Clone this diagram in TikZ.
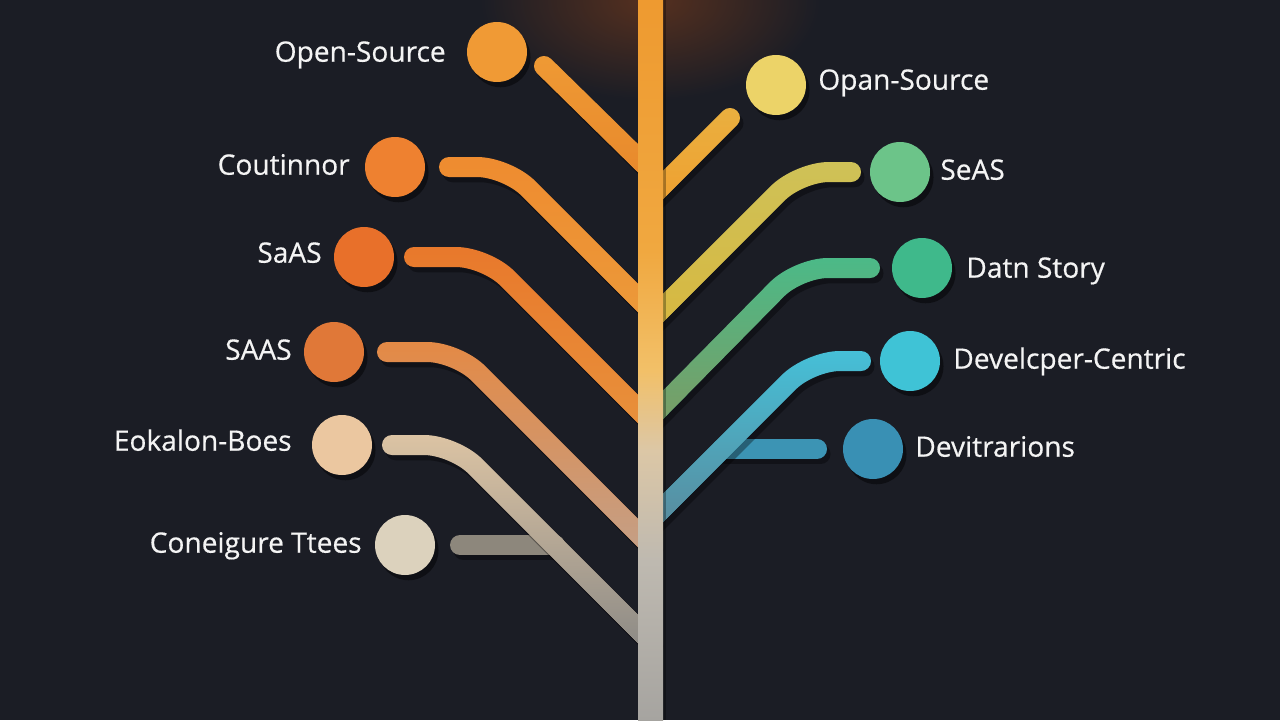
\documentclass[tikz,border=0pt]{standalone}
\usepackage{fontspec}
\setmainfont{Open Sans}[FakeBold=0.5]
\usetikzlibrary{calc,shadows,fadings}
\definecolor{bg}{HTML}{1B1D25}
\definecolor{glow}{HTML}{56301F}
\definecolor{labelcol}{HTML}{F4F4F4}
\definecolor{tk1}{HTML}{A6A4A0}
\definecolor{tk2}{HTML}{BEB9B0}
\definecolor{tk3}{HTML}{DCC7A6}
\definecolor{tk4}{HTML}{F2C068}
\definecolor{tk5}{HTML}{F0A840}
\definecolor{tk6}{HTML}{EE9A30}
% circle colours
\definecolor{cA}{HTML}{F09A35}
\definecolor{cB}{HTML}{EE8130}
\definecolor{cC}{HTML}{E8702A}
\definecolor{cD}{HTML}{E07838}
\definecolor{cE}{HTML}{EBC7A0}
\definecolor{cF}{HTML}{DCD2BD}
\definecolor{rA}{HTML}{ECD368}
\definecolor{rB}{HTML}{6CC489}
\definecolor{rC}{HTML}{3FB98B}
\definecolor{rD}{HTML}{3FC3D6}
\definecolor{rE}{HTML}{3990B4}
% connector colours
\definecolor{lA1}{HTML}{EF9A35}\definecolor{lA2}{HTML}{E8892C}
\definecolor{lB1}{HTML}{EF8C30}\definecolor{lB2}{HTML}{EC9A3A}
\definecolor{lC1}{HTML}{E8792C}\definecolor{lC2}{HTML}{E8923C}
\definecolor{lD1}{HTML}{E48A46}\definecolor{lD2}{HTML}{C4A088}
\definecolor{lE1}{HTML}{DCC4A4}\definecolor{lE2}{HTML}{8C8A86}
\definecolor{lF1}{HTML}{8D877C}
\definecolor{rA1}{HTML}{EAB040}\definecolor{rA2}{HTML}{F0A030}
\definecolor{rB1}{HTML}{CFC258}\definecolor{rB2}{HTML}{D8B840}
\definecolor{rC1}{HTML}{4CBA88}\definecolor{rC2}{HTML}{7C9C64}
\definecolor{rD1}{HTML}{46C0D8}\definecolor{rD2}{HTML}{5A8A9C}
\definecolor{rE1}{HTML}{3C94B4}
\pgfdeclareverticalshading{trunkshade}{100bp}{color(0bp)=(tk1); color(25bp)=(tk1); color(36bp)=(tk2); color(43.75bp)=(tk3); color(49.3bp)=(tk4); color(57.6bp)=(tk5); color(75bp)=(tk6); color(100bp)=(tk6)}
\tikzfading[name=fadedown, top color=transparent!100, bottom color=transparent!0]
\newcommand\branchline[4]{%
  \draw[conn,black,opacity=.35,transform canvas={shift={(2pt,-3pt)}},#1] #4;
  \draw[conn,#2,#1] #4;
  \draw[conn,#3,path fading=fadedown,#1] #4;}
\begin{document}
\begin{tikzpicture}[x=0.02cm,y=-0.02cm,
  dot/.style={circle, minimum size=1.2cm, inner sep=0pt,
    drop shadow={shadow xshift=2pt, shadow yshift=-3pt, opacity=.45, fill=black}},
  lbl/.style={text=labelcol, inner sep=0pt, font=\fontsize{16}{19}\selectfont},
  conn/.style={line width=0.4cm, line cap=round, rounded corners=0.6cm},
  trunkbar/.style={minimum width=0.5cm, minimum height=14.4cm, inner sep=0pt,
    shade, shading=trunkshade, anchor=north}]
\fill[bg] (0,0) rectangle (1280,720);
\useasboundingbox (0,0) rectangle (1280,720);
\shade[inner color=glow, outer color=bg] (650,0) ellipse (3.4cm and 2cm);

% circles (left)
\node[dot, fill=cA] (c1) at (497,52) {};
\node[dot, fill=cB] (c2) at (395,167) {};
\node[dot, fill=cC] (c3) at (364,257) {};
\node[dot, fill=cD] (c4) at (334,352) {};
\node[dot, fill=cE] (c5) at (342,445) {};
\node[dot, fill=cF] (c6) at (405,545) {};
% circles (right)
\node[dot, fill=rA] (r1) at (776,85) {};
\node[dot, fill=rB] (r2) at (900,172) {};
\node[dot, fill=rC] (r3) at (922,268) {};
\node[dot, fill=rD] (r4) at (910,361) {};
\node[dot, fill=rE] (r5) at (873,449) {};

% connector points
\coordinate (s1) at (544,66);   \coordinate (j1) at (650,170);
\coordinate (b2) at (507,167);  \coordinate (j2) at (650,310);
\coordinate (b3) at (486,257);  \coordinate (j3) at (650,421);
\coordinate (b4) at (457,352);  \coordinate (j4) at (650,545);
\coordinate (b5) at (454,445);  \coordinate (j5) at (650,641);
\coordinate (e6) at (555,545);
\coordinate (s7) at (730,118);  \coordinate (j7) at (650,198);
\coordinate (b8) at (799,172);  \coordinate (j8) at (650,321);
\coordinate (b9) at (798,268);  \coordinate (j9) at (650,418);
\coordinate (b10) at (810,361); \coordinate (j10) at (650,521);
\coordinate (e11) at (722,449);

% left connectors
\branchline{}{lA1}{lA2}{(s1) -- (j1)}
\branchline{shorten <=1.08cm}{lB1}{lB2}{(c2.center) -- (b2) -- (j2)}
\branchline{shorten <=1.0cm}{lC1}{lC2}{(c3.center) -- (b3) -- (j3)}
\branchline{shorten <=1.06cm}{lD1}{lD2}{(c4.center) -- (b4) -- (j4)}
\draw[conn,black,opacity=.35,transform canvas={shift={(2pt,-3pt)}},shorten <=1.1cm] (c6.center) -- (e6);
\draw[conn,lF1,shorten <=1.1cm] (c6.center) -- (e6);
\branchline{shorten <=1.0cm}{lE1}{lE2}{(c5.center) -- (b5) -- (j5)}
% right connectors
\branchline{}{rA1}{rA2}{(s7) -- (j7)}
\branchline{shorten <=0.98cm}{rB1}{rB2}{(r2.center) -- (b8) -- (j8)}
\branchline{shorten <=1.04cm}{rC1}{rC2}{(r3.center) -- (b9) -- (j9)}
\draw[conn,black,opacity=.35,transform canvas={shift={(2pt,-3pt)}},shorten <=1.12cm] (r5.center) -- (e11);
\draw[conn,rE1,shorten <=1.12cm] (r5.center) -- (e11);
\branchline{shorten <=0.98cm}{rD1}{rD2}{(r4.center) -- (b10) -- (j10)}

% trunk
\fill[black,opacity=.3] (651,0) rectangle (666,720);
\node[trunkbar] (trunk) at (650.5,0) {};

% labels
\node[lbl, anchor=mid east] (t1) at (446,57) {Open-Source};
\node[lbl, anchor=mid east] (t2) at (350,170) {Coutinnor};
\node[lbl, anchor=mid east] (t3) at (322,258) {SaAS};
\node[lbl, anchor=mid east] (t4) at (292,355) {SAAS};
\node[lbl, anchor=mid east] (t5) at (292,446) {Eokalon-Boes};
\node[lbl, anchor=mid east] (t6) at (362,548) {Coneigure Ttees};
\node[lbl, anchor=mid west] (u1) at (818,85) {Opan-Source};
\node[lbl, anchor=mid west] (u2) at (940,175) {SeAS};
\node[lbl, anchor=mid west] (u3) at (966,273) {Datn Story};
\node[lbl, anchor=mid west] (u4) at (953,364) {Develcper-Centric};
\node[lbl, anchor=mid west] (u5) at (915,452) {Devitrarions};
\end{tikzpicture}
\end{document}
